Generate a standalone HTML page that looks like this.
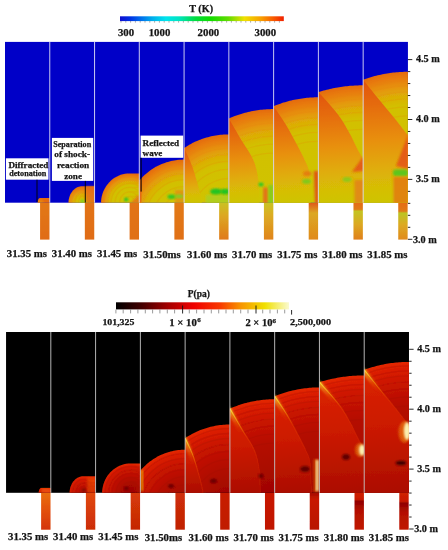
<!DOCTYPE html><html><head><meta charset="utf-8"><style>html,body{margin:0;padding:0;background:#fff;width:448px;height:550px;overflow:hidden}svg{display:block}text{font-family:"Liberation Serif","Times New Roman",serif;font-weight:bold;fill:#141414;stroke:#141414;stroke-width:0.25px}</style></head><body>
<svg width="448" height="550" viewBox="0 0 448 550">
<defs>
<filter id="bl" x="-20%" y="-20%" width="140%" height="140%"><feGaussianBlur stdDeviation="1.2"/></filter>
<filter id="bl05" x="-5%" y="-5%" width="110%" height="110%"><feGaussianBlur stdDeviation="0.6"/></filter>
<filter id="bl2" x="-20%" y="-20%" width="140%" height="140%"><feGaussianBlur stdDeviation="2.2"/></filter>
<linearGradient id="cbT" x1="0" x2="1" y1="0" y2="0"><stop offset="0" stop-color="#1010d0"/><stop offset="0.06" stop-color="#0030e4"/><stop offset="0.13" stop-color="#0070ec"/><stop offset="0.2" stop-color="#00b0ec"/><stop offset="0.28" stop-color="#00e4ec"/><stop offset="0.36" stop-color="#00e4c0"/><stop offset="0.46" stop-color="#00dc40"/><stop offset="0.55" stop-color="#10dc00"/><stop offset="0.66" stop-color="#60dc00"/><stop offset="0.76" stop-color="#f0e000"/><stop offset="0.86" stop-color="#f8a000"/><stop offset="0.93" stop-color="#f86000"/><stop offset="1" stop-color="#f02000"/></linearGradient>
<linearGradient id="cbP" x1="0" x2="1" y1="0" y2="0"><stop offset="0" stop-color="#000000"/><stop offset="0.15" stop-color="#440000"/><stop offset="0.3" stop-color="#a40000"/><stop offset="0.45" stop-color="#f00000"/><stop offset="0.6" stop-color="#f83800"/><stop offset="0.72" stop-color="#f89400"/><stop offset="0.86" stop-color="#f0e000"/><stop offset="1" stop-color="#fafad0"/></linearGradient>
<radialGradient id="gT0" gradientUnits="userSpaceOnUse" cx="39.97" cy="203.30" r="5.30"><stop offset="0" stop-color="#cec604"/><stop offset="0.000" stop-color="#d2c004"/><stop offset="0.000" stop-color="#dcae06"/><stop offset="0.009" stop-color="#e6940a"/><stop offset="0.604" stop-color="#e87a0c"/><stop offset="1" stop-color="#e46a10"/></radialGradient>
<radialGradient id="gP0" gradientUnits="userSpaceOnUse" cx="39.97" cy="203.30" r="5.30"><stop offset="0" stop-color="#980200"/><stop offset="0.000" stop-color="#b40c00"/><stop offset="0.000" stop-color="#c81400"/><stop offset="0.472" stop-color="#d81c00"/><stop offset="1" stop-color="#e42800"/></radialGradient>
<clipPath id="cp0"><rect x="5.00" y="41.9" width="44.77" height="160.80"/></clipPath>
<clipPath id="fc0"><path d="M37.57,203.30 L37.57,203.30 L37.58,202.88 L37.60,202.47 L37.64,202.06 L37.69,201.66 L37.75,201.27 L37.83,200.89 L37.92,200.53 L38.03,200.18 L38.15,199.86 L38.27,199.55 L38.41,199.27 L38.56,199.01 L38.72,198.78 L38.88,198.58 L39.05,198.40 L39.23,198.26 L39.41,198.15 L39.59,198.07 L39.78,198.02 L39.97,198.00 L50.77,198.00 L50.77,203.30 Z"/></clipPath>
<radialGradient id="gT1" gradientUnits="userSpaceOnUse" cx="82.04" cy="203.30" r="17.10"><stop offset="0" stop-color="#cec604"/><stop offset="0.304" stop-color="#d2c004"/><stop offset="0.509" stop-color="#dcae06"/><stop offset="0.693" stop-color="#e6940a"/><stop offset="0.877" stop-color="#e87a0c"/><stop offset="1" stop-color="#e46a10"/></radialGradient>
<radialGradient id="gP1" gradientUnits="userSpaceOnUse" cx="82.04" cy="203.30" r="17.10"><stop offset="0" stop-color="#980200"/><stop offset="0.079" stop-color="#b40c00"/><stop offset="0.550" stop-color="#c81400"/><stop offset="0.836" stop-color="#d81c00"/><stop offset="1" stop-color="#e42800"/></radialGradient>
<clipPath id="cp1"><rect x="49.77" y="41.9" width="44.77" height="160.80"/></clipPath>
<clipPath id="fc1"><path d="M68.44,203.30 L68.44,203.30 L68.48,201.96 L68.61,200.62 L68.82,199.31 L69.11,198.02 L69.48,196.76 L69.92,195.54 L70.44,194.37 L71.04,193.25 L71.70,192.19 L72.42,191.21 L73.21,190.30 L74.05,189.47 L74.93,188.72 L75.87,188.06 L76.84,187.50 L77.84,187.04 L78.87,186.67 L79.91,186.41 L80.97,186.25 L82.04,186.20 L95.54,186.20 L95.54,203.30 Z"/></clipPath>
<radialGradient id="gT2" gradientUnits="userSpaceOnUse" cx="129.41" cy="203.30" r="29.90"><stop offset="0" stop-color="#cec604"/><stop offset="0.602" stop-color="#d2c004"/><stop offset="0.719" stop-color="#dcae06"/><stop offset="0.824" stop-color="#e6940a"/><stop offset="0.930" stop-color="#e87a0c"/><stop offset="1" stop-color="#e46a10"/></radialGradient>
<radialGradient id="gP2" gradientUnits="userSpaceOnUse" cx="129.41" cy="203.30" r="29.90"><stop offset="0" stop-color="#980200"/><stop offset="0.473" stop-color="#b40c00"/><stop offset="0.742" stop-color="#c81400"/><stop offset="0.906" stop-color="#d81c00"/><stop offset="1" stop-color="#e42800"/></radialGradient>
<clipPath id="cp2"><rect x="94.54" y="41.9" width="44.77" height="160.80"/></clipPath>
<clipPath id="fc2"><path d="M101.01,203.30 L101.01,203.30 L101.10,200.95 L101.36,198.62 L101.79,196.32 L102.40,194.06 L103.17,191.86 L104.11,189.73 L105.20,187.68 L106.43,185.73 L107.81,183.88 L109.33,182.16 L110.97,180.56 L112.72,179.11 L114.57,177.81 L116.52,176.66 L118.54,175.68 L120.63,174.86 L122.78,174.23 L124.97,173.77 L127.18,173.49 L129.41,173.40 L140.31,173.40 L140.31,203.30 Z"/></clipPath>
<radialGradient id="gT3" gradientUnits="userSpaceOnUse" cx="184.08" cy="217.82" r="58.22"><stop offset="0" stop-color="#cec604"/><stop offset="0.622" stop-color="#d2c004"/><stop offset="0.733" stop-color="#dcae06"/><stop offset="0.833" stop-color="#e6940a"/><stop offset="0.933" stop-color="#e87a0c"/><stop offset="1" stop-color="#e46a10"/></radialGradient>
<radialGradient id="gP3" gradientUnits="userSpaceOnUse" cx="184.08" cy="217.82" r="58.22"><stop offset="0" stop-color="#980200"/><stop offset="0.500" stop-color="#b40c00"/><stop offset="0.756" stop-color="#c81400"/><stop offset="0.911" stop-color="#d81c00"/><stop offset="1" stop-color="#e42800"/></radialGradient>
<clipPath id="cp3"><rect x="139.31" y="41.9" width="44.77" height="160.80"/></clipPath>
<clipPath id="fc3"><path d="M138.31,203.30 L138.31,181.84 L139.87,179.94 L141.43,178.19 L142.99,176.58 L144.55,175.08 L146.11,173.69 L147.66,172.39 L149.22,171.19 L150.78,170.06 L152.34,169.01 L153.90,168.03 L155.46,167.12 L157.02,166.27 L158.58,165.48 L160.14,164.75 L161.69,164.08 L163.25,163.45 L164.81,162.88 L166.37,162.36 L167.93,161.88 L169.49,161.46 L171.05,161.08 L172.61,160.74 L174.17,160.45 L175.73,160.20 L177.29,160.00 L178.84,159.84 L180.40,159.72 L181.96,159.64 L183.52,159.60 L185.08,159.61 L185.08,203.30 Z"/></clipPath>
<linearGradient id="rT3" gradientUnits="userSpaceOnUse" x1="139.31" y1="180.60" x2="145.31" y2="202.70"><stop offset="0" stop-color="#e2520c"/><stop offset="0.28" stop-color="#e6740c"/><stop offset="0.5" stop-color="#e8900a"/><stop offset="0.72" stop-color="#e0ac08"/><stop offset="0.88" stop-color="#d6be06"/><stop offset="1" stop-color="#cec404"/></linearGradient>
<linearGradient id="rP3" gradientUnits="userSpaceOnUse" x1="139.31" y1="180.60" x2="145.31" y2="202.70"><stop offset="0" stop-color="#dc2400"/><stop offset="0.45" stop-color="#cc1a02"/><stop offset="1" stop-color="#ac0e00"/></linearGradient>
<radialGradient id="gT4" gradientUnits="userSpaceOnUse" cx="228.85" cy="214.89" r="80.49"><stop offset="0" stop-color="#cec604"/><stop offset="0.622" stop-color="#d2c004"/><stop offset="0.733" stop-color="#dcae06"/><stop offset="0.833" stop-color="#e6940a"/><stop offset="0.933" stop-color="#e87a0c"/><stop offset="1" stop-color="#e46a10"/></radialGradient>
<radialGradient id="gP4" gradientUnits="userSpaceOnUse" cx="228.85" cy="214.89" r="80.49"><stop offset="0" stop-color="#980200"/><stop offset="0.500" stop-color="#b40c00"/><stop offset="0.756" stop-color="#c81400"/><stop offset="0.911" stop-color="#d81c00"/><stop offset="1" stop-color="#e42800"/></radialGradient>
<clipPath id="cp4"><rect x="184.08" y="41.9" width="44.77" height="160.80"/></clipPath>
<clipPath id="fc4"><path d="M183.08,203.30 L183.08,148.68 L184.64,147.63 L186.20,146.63 L187.76,145.68 L189.32,144.78 L190.88,143.92 L192.43,143.11 L193.99,142.34 L195.55,141.61 L197.11,140.92 L198.67,140.27 L200.23,139.66 L201.79,139.09 L203.35,138.55 L204.91,138.04 L206.47,137.58 L208.02,137.14 L209.58,136.74 L211.14,136.37 L212.70,136.04 L214.26,135.73 L215.82,135.46 L217.38,135.22 L218.94,135.01 L220.50,134.83 L222.06,134.69 L223.61,134.57 L225.17,134.48 L226.73,134.43 L228.29,134.40 L229.85,134.41 L229.85,203.30 Z"/></clipPath>
<linearGradient id="rT4" gradientUnits="userSpaceOnUse" x1="184.08" y1="148.00" x2="190.08" y2="202.70"><stop offset="0" stop-color="#e2520c"/><stop offset="0.28" stop-color="#e6740c"/><stop offset="0.5" stop-color="#e8900a"/><stop offset="0.72" stop-color="#e0ac08"/><stop offset="0.88" stop-color="#d6be06"/><stop offset="1" stop-color="#cec404"/></linearGradient>
<linearGradient id="rP4" gradientUnits="userSpaceOnUse" x1="184.08" y1="148.00" x2="190.08" y2="202.70"><stop offset="0" stop-color="#dc2400"/><stop offset="0.45" stop-color="#cc1a02"/><stop offset="1" stop-color="#ac0e00"/></linearGradient>
<radialGradient id="gT5" gradientUnits="userSpaceOnUse" cx="273.62" cy="220.41" r="111.31"><stop offset="0" stop-color="#cec604"/><stop offset="0.695" stop-color="#d2c004"/><stop offset="0.784" stop-color="#dcae06"/><stop offset="0.865" stop-color="#e6940a"/><stop offset="0.946" stop-color="#e87a0c"/><stop offset="1" stop-color="#e46a10"/></radialGradient>
<radialGradient id="gP5" gradientUnits="userSpaceOnUse" cx="273.62" cy="220.41" r="111.31"><stop offset="0" stop-color="#980200"/><stop offset="0.596" stop-color="#b40c00"/><stop offset="0.802" stop-color="#c81400"/><stop offset="0.928" stop-color="#d81c00"/><stop offset="1" stop-color="#e42800"/></radialGradient>
<clipPath id="cp5"><rect x="228.85" y="41.9" width="44.77" height="160.80"/></clipPath>
<clipPath id="fc5"><path d="M227.85,203.30 L227.85,118.95 L229.41,118.26 L230.97,117.60 L232.53,116.96 L234.09,116.36 L235.65,115.78 L237.20,115.23 L238.76,114.70 L240.32,114.20 L241.88,113.72 L243.44,113.27 L245.00,112.84 L246.56,112.44 L248.12,112.06 L249.68,111.71 L251.24,111.37 L252.79,111.07 L254.35,110.78 L255.91,110.52 L257.47,110.28 L259.03,110.06 L260.59,109.87 L262.15,109.69 L263.71,109.54 L265.27,109.41 L266.82,109.31 L268.38,109.22 L269.94,109.16 L271.50,109.12 L273.06,109.10 L274.62,109.10 L274.62,203.30 Z"/></clipPath>
<linearGradient id="rT5" gradientUnits="userSpaceOnUse" x1="228.85" y1="118.50" x2="234.85" y2="202.70"><stop offset="0" stop-color="#e2520c"/><stop offset="0.28" stop-color="#e6740c"/><stop offset="0.5" stop-color="#e8900a"/><stop offset="0.72" stop-color="#e0ac08"/><stop offset="0.88" stop-color="#d6be06"/><stop offset="1" stop-color="#cec404"/></linearGradient>
<linearGradient id="rP5" gradientUnits="userSpaceOnUse" x1="228.85" y1="118.50" x2="234.85" y2="202.70"><stop offset="0" stop-color="#dc2400"/><stop offset="0.45" stop-color="#cc1a02"/><stop offset="1" stop-color="#ac0e00"/></linearGradient>
<radialGradient id="gT6" gradientUnits="userSpaceOnUse" cx="318.39" cy="214.35" r="117.05"><stop offset="0" stop-color="#cec604"/><stop offset="0.710" stop-color="#d2c004"/><stop offset="0.795" stop-color="#dcae06"/><stop offset="0.872" stop-color="#e6940a"/><stop offset="0.949" stop-color="#e87a0c"/><stop offset="1" stop-color="#e46a10"/></radialGradient>
<radialGradient id="gP6" gradientUnits="userSpaceOnUse" cx="318.39" cy="214.35" r="117.05"><stop offset="0" stop-color="#980200"/><stop offset="0.616" stop-color="#b40c00"/><stop offset="0.812" stop-color="#c81400"/><stop offset="0.932" stop-color="#d81c00"/><stop offset="1" stop-color="#e42800"/></radialGradient>
<clipPath id="cp6"><rect x="273.62" y="41.9" width="44.77" height="160.80"/></clipPath>
<clipPath id="fc6"><path d="M272.62,203.30 L272.62,106.62 L274.18,105.97 L275.74,105.35 L277.30,104.75 L278.86,104.18 L280.42,103.63 L281.97,103.11 L283.53,102.61 L285.09,102.14 L286.65,101.69 L288.21,101.26 L289.77,100.85 L291.33,100.47 L292.89,100.11 L294.45,99.78 L296.00,99.46 L297.56,99.17 L299.12,98.90 L300.68,98.65 L302.24,98.42 L303.80,98.21 L305.36,98.03 L306.92,97.86 L308.48,97.72 L310.04,97.60 L311.59,97.50 L313.15,97.42 L314.71,97.36 L316.27,97.32 L317.83,97.30 L319.39,97.30 L319.39,203.30 Z"/></clipPath>
<linearGradient id="rT6" gradientUnits="userSpaceOnUse" x1="273.62" y1="106.20" x2="279.62" y2="202.70"><stop offset="0" stop-color="#e2520c"/><stop offset="0.28" stop-color="#e6740c"/><stop offset="0.5" stop-color="#e8900a"/><stop offset="0.72" stop-color="#e0ac08"/><stop offset="0.88" stop-color="#d6be06"/><stop offset="1" stop-color="#cec404"/></linearGradient>
<linearGradient id="rP6" gradientUnits="userSpaceOnUse" x1="273.62" y1="106.20" x2="279.62" y2="202.70"><stop offset="0" stop-color="#dc2400"/><stop offset="0.45" stop-color="#cc1a02"/><stop offset="1" stop-color="#ac0e00"/></linearGradient>
<radialGradient id="gT7" gradientUnits="userSpaceOnUse" cx="363.16" cy="236.08" r="150.78"><stop offset="0" stop-color="#cec604"/><stop offset="0.775" stop-color="#d2c004"/><stop offset="0.841" stop-color="#dcae06"/><stop offset="0.901" stop-color="#e6940a"/><stop offset="0.960" stop-color="#e87a0c"/><stop offset="1" stop-color="#e46a10"/></radialGradient>
<radialGradient id="gP7" gradientUnits="userSpaceOnUse" cx="363.16" cy="236.08" r="150.78"><stop offset="0" stop-color="#980200"/><stop offset="0.702" stop-color="#b40c00"/><stop offset="0.854" stop-color="#c81400"/><stop offset="0.947" stop-color="#d81c00"/><stop offset="1" stop-color="#e42800"/></radialGradient>
<clipPath id="cp7"><rect x="318.39" y="41.9" width="44.77" height="160.80"/></clipPath>
<clipPath id="fc7"><path d="M317.39,203.30 L317.39,92.41 L318.95,91.93 L320.51,91.46 L322.07,91.01 L323.63,90.58 L325.19,90.16 L326.74,89.76 L328.30,89.38 L329.86,89.02 L331.42,88.68 L332.98,88.35 L334.54,88.04 L336.10,87.75 L337.66,87.47 L339.22,87.21 L340.78,86.97 L342.33,86.75 L343.89,86.54 L345.45,86.34 L347.01,86.17 L348.57,86.01 L350.13,85.86 L351.69,85.74 L353.25,85.63 L354.81,85.53 L356.37,85.45 L357.92,85.39 L359.48,85.34 L361.04,85.31 L362.60,85.30 L364.16,85.30 L364.16,203.30 Z"/></clipPath>
<linearGradient id="rT7" gradientUnits="userSpaceOnUse" x1="318.39" y1="92.10" x2="324.39" y2="202.70"><stop offset="0" stop-color="#e2520c"/><stop offset="0.28" stop-color="#e6740c"/><stop offset="0.5" stop-color="#e8900a"/><stop offset="0.72" stop-color="#e0ac08"/><stop offset="0.88" stop-color="#d6be06"/><stop offset="1" stop-color="#cec404"/></linearGradient>
<linearGradient id="rP7" gradientUnits="userSpaceOnUse" x1="318.39" y1="92.10" x2="324.39" y2="202.70"><stop offset="0" stop-color="#dc2400"/><stop offset="0.45" stop-color="#cc1a02"/><stop offset="1" stop-color="#ac0e00"/></linearGradient>
<radialGradient id="gT8" gradientUnits="userSpaceOnUse" cx="407.93" cy="202.61" r="130.81"><stop offset="0" stop-color="#cec604"/><stop offset="0.740" stop-color="#d2c004"/><stop offset="0.817" stop-color="#dcae06"/><stop offset="0.885" stop-color="#e6940a"/><stop offset="0.954" stop-color="#e87a0c"/><stop offset="1" stop-color="#e46a10"/></radialGradient>
<radialGradient id="gP8" gradientUnits="userSpaceOnUse" cx="407.93" cy="202.61" r="130.81"><stop offset="0" stop-color="#980200"/><stop offset="0.656" stop-color="#b40c00"/><stop offset="0.832" stop-color="#c81400"/><stop offset="0.939" stop-color="#d81c00"/><stop offset="1" stop-color="#e42800"/></radialGradient>
<clipPath id="cp8"><rect x="363.16" y="41.9" width="44.77" height="160.80"/></clipPath>
<clipPath id="fc8"><path d="M362.16,203.30 L362.16,80.07 L363.72,79.50 L365.28,78.95 L366.84,78.42 L368.40,77.92 L369.96,77.43 L371.51,76.97 L373.07,76.53 L374.63,76.11 L376.19,75.71 L377.75,75.33 L379.31,74.97 L380.87,74.63 L382.43,74.31 L383.99,74.01 L385.55,73.73 L387.10,73.47 L388.66,73.23 L390.22,73.00 L391.78,72.80 L393.34,72.62 L394.90,72.45 L396.46,72.30 L398.02,72.18 L399.58,72.07 L401.13,71.98 L402.69,71.90 L404.25,71.85 L405.81,71.82 L407.37,71.80 L408.93,71.80 L408.93,203.30 Z"/></clipPath>
<linearGradient id="rT8" gradientUnits="userSpaceOnUse" x1="363.16" y1="79.70" x2="369.16" y2="202.70"><stop offset="0" stop-color="#e2520c"/><stop offset="0.28" stop-color="#e6740c"/><stop offset="0.5" stop-color="#e8900a"/><stop offset="0.72" stop-color="#e0ac08"/><stop offset="0.88" stop-color="#d6be06"/><stop offset="1" stop-color="#cec404"/></linearGradient>
<linearGradient id="rP8" gradientUnits="userSpaceOnUse" x1="363.16" y1="79.70" x2="369.16" y2="202.70"><stop offset="0" stop-color="#dc2400"/><stop offset="0.45" stop-color="#cc1a02"/><stop offset="1" stop-color="#ac0e00"/></linearGradient>
<linearGradient id="rl4" gradientUnits="userSpaceOnUse" x1="184.08" y1="148.00" x2="214.08" y2="208.00"><stop offset="0" stop-color="#f8e040"/><stop offset="0.2" stop-color="#f0a010" stop-opacity="0.8"/><stop offset="0.5" stop-color="#e84000" stop-opacity="0.45"/><stop offset="1" stop-color="#e03000" stop-opacity="0.25"/></linearGradient>
<linearGradient id="rl5" gradientUnits="userSpaceOnUse" x1="228.85" y1="118.50" x2="258.85" y2="178.50"><stop offset="0" stop-color="#f8e040"/><stop offset="0.2" stop-color="#f0a010" stop-opacity="0.8"/><stop offset="0.5" stop-color="#e84000" stop-opacity="0.45"/><stop offset="1" stop-color="#e03000" stop-opacity="0.25"/></linearGradient>
<linearGradient id="rl6" gradientUnits="userSpaceOnUse" x1="273.62" y1="106.20" x2="303.62" y2="166.20"><stop offset="0" stop-color="#f8e040"/><stop offset="0.2" stop-color="#f0a010" stop-opacity="0.8"/><stop offset="0.5" stop-color="#e84000" stop-opacity="0.45"/><stop offset="1" stop-color="#e03000" stop-opacity="0.25"/></linearGradient>
<linearGradient id="rl7" gradientUnits="userSpaceOnUse" x1="318.39" y1="92.10" x2="348.39" y2="152.10"><stop offset="0" stop-color="#f8e040"/><stop offset="0.2" stop-color="#f0a010" stop-opacity="0.8"/><stop offset="0.5" stop-color="#e84000" stop-opacity="0.45"/><stop offset="1" stop-color="#e03000" stop-opacity="0.25"/></linearGradient>
<linearGradient id="rl8" gradientUnits="userSpaceOnUse" x1="363.16" y1="79.70" x2="393.16" y2="139.70"><stop offset="0" stop-color="#f8e040"/><stop offset="0.2" stop-color="#f0a010" stop-opacity="0.8"/><stop offset="0.5" stop-color="#e84000" stop-opacity="0.45"/><stop offset="1" stop-color="#e03000" stop-opacity="0.25"/></linearGradient>
<linearGradient id="rw4" gradientUnits="userSpaceOnUse" x1="184.08" y1="148.00" x2="198.08" y2="172.00"><stop offset="0" stop-color="#f0c020" stop-opacity="0.9"/><stop offset="0.5" stop-color="#f08010" stop-opacity="0.5"/><stop offset="1" stop-color="#e04000" stop-opacity="0"/></linearGradient>
<linearGradient id="rw5" gradientUnits="userSpaceOnUse" x1="228.85" y1="118.50" x2="242.85" y2="142.50"><stop offset="0" stop-color="#f0c020" stop-opacity="0.9"/><stop offset="0.5" stop-color="#f08010" stop-opacity="0.5"/><stop offset="1" stop-color="#e04000" stop-opacity="0"/></linearGradient>
<linearGradient id="rw6" gradientUnits="userSpaceOnUse" x1="273.62" y1="106.20" x2="287.62" y2="130.20"><stop offset="0" stop-color="#f0c020" stop-opacity="0.9"/><stop offset="0.5" stop-color="#f08010" stop-opacity="0.5"/><stop offset="1" stop-color="#e04000" stop-opacity="0"/></linearGradient>
<linearGradient id="rw7" gradientUnits="userSpaceOnUse" x1="318.39" y1="92.10" x2="332.39" y2="116.10"><stop offset="0" stop-color="#f0c020" stop-opacity="0.9"/><stop offset="0.5" stop-color="#f08010" stop-opacity="0.5"/><stop offset="1" stop-color="#e04000" stop-opacity="0"/></linearGradient>
<linearGradient id="rw8" gradientUnits="userSpaceOnUse" x1="363.16" y1="79.70" x2="377.16" y2="103.70"><stop offset="0" stop-color="#f0c020" stop-opacity="0.9"/><stop offset="0.5" stop-color="#f08010" stop-opacity="0.5"/><stop offset="1" stop-color="#e04000" stop-opacity="0"/></linearGradient>
<linearGradient id="chT" x1="0" x2="1" y1="0" y2="0"><stop offset="0" stop-color="#e48818"/><stop offset="0.5" stop-color="#ea7814"/><stop offset="1" stop-color="#e06c10"/></linearGradient>
<linearGradient id="chP" x1="0" x2="1" y1="0" y2="0"><stop offset="0" stop-color="#e04a08"/><stop offset="0.5" stop-color="#e03c04"/><stop offset="1" stop-color="#c82000"/></linearGradient>
</defs>
<text x="201.1" y="12.2" font-size="10.2" text-anchor="middle">T (K)</text>
<rect x="120" y="16.3" width="163.8" height="4.8" fill="url(#cbT)"/>
<path d="M121.0,21.1v1.5 M125.8,21.1v1.5 M130.6,21.1v1.5 M135.4,21.1v1.5 M140.2,21.1v1.5 M145.0,21.1v1.5 M149.8,21.1v1.5 M154.6,21.1v1.5 M159.4,21.1v1.5 M164.2,21.1v1.5 M169.0,21.1v1.5 M173.8,21.1v1.5 M178.6,21.1v1.5 M183.4,21.1v1.5 M188.2,21.1v1.5 M193.0,21.1v1.5 M197.8,21.1v1.5 M202.6,21.1v1.5 M207.4,21.1v1.5 M212.2,21.1v1.5 M217.0,21.1v1.5 M221.8,21.1v1.5 M226.6,21.1v1.5 M231.4,21.1v1.5 M236.2,21.1v1.5 M241.0,21.1v1.5 M245.8,21.1v1.5 M250.6,21.1v1.5 M255.4,21.1v1.5 M260.2,21.1v1.5 M265.0,21.1v1.5 M269.8,21.1v1.5 M274.6,21.1v1.5 M279.4,21.1v1.5" stroke="#666" stroke-width="0.6" fill="none"/>
<text x="126.0" y="35.7" font-size="10.8" text-anchor="middle">300</text>
<text x="159.5" y="35.7" font-size="10.8" text-anchor="middle">1000</text>
<text x="208.4" y="35.7" font-size="10.8" text-anchor="middle">2000</text>
<text x="265.3" y="35.7" font-size="10.8" text-anchor="middle">3000</text>
<text x="198.8" y="297.2" font-size="9.4" text-anchor="middle" textLength="22" lengthAdjust="spacingAndGlyphs">P(pa)</text>
<rect x="116" y="302.3" width="173" height="7.1" fill="url(#cbP)"/>
<path d="M115.9,309.6v3.8 M123.2,309.6v3.8 M130.6,309.6v3.8 M137.9,309.6v3.8 M145.3,309.6v3.8 M152.6,309.6v3.8 M159.9,309.6v3.8 M167.3,309.6v3.8 M174.6,309.6v3.8 M189.3,309.6v3.8 M196.6,309.6v3.8 M204.0,309.6v3.8 M211.3,309.6v3.8 M218.7,309.6v3.8 M226.0,309.6v3.8 M233.3,309.6v3.8 M240.7,309.6v3.8 M248.0,309.6v3.8 M262.7,309.6v3.8 M270.0,309.6v3.8 M277.4,309.6v3.8 M284.7,309.6v3.8" stroke="#555" stroke-width="0.6" fill="none"/>
<path d="M182.6,305.5v8 M256,305.5v8 M291.6,310v4.6" stroke="#111" stroke-width="0.9" fill="none"/>
<text x="118.4" y="324.6" font-size="8.8" text-anchor="middle" textLength="32" lengthAdjust="spacingAndGlyphs">101,325</text>
<text x="169.3" y="325.5" font-size="9.4" textLength="27.5" lengthAdjust="spacingAndGlyphs">1 × 10</text>
<text x="197.2" y="322.2" font-size="7">6</text>
<text x="245.4" y="325.9" font-size="9.4" textLength="27.0" lengthAdjust="spacingAndGlyphs">2 × 10</text>
<text x="272.6" y="322.6" font-size="7">6</text>
<text x="310.5" y="324.6" font-size="8.8" text-anchor="middle" textLength="41" lengthAdjust="spacingAndGlyphs">2,500,000</text>
<linearGradient id="chT0" x1="0" x2="0" y1="0" y2="1"><stop offset="0" stop-color="#e27818"/><stop offset="1" stop-color="#e06c16"/></linearGradient>
<linearGradient id="chT1" x1="0" x2="0" y1="0" y2="1"><stop offset="0" stop-color="#e27418"/><stop offset="1" stop-color="#e06c16"/></linearGradient>
<linearGradient id="chT2" x1="0" x2="0" y1="0" y2="1"><stop offset="0" stop-color="#e27418"/><stop offset="1" stop-color="#e07016"/></linearGradient>
<linearGradient id="chT3" x1="0" x2="0" y1="0" y2="1"><stop offset="0" stop-color="#e27a18"/><stop offset="1" stop-color="#e07016"/></linearGradient>
<linearGradient id="chT4" x1="0" x2="0" y1="0" y2="1"><stop offset="0" stop-color="#c8c420"/><stop offset="0.35" stop-color="#dca822"/><stop offset="1" stop-color="#e07a1a"/></linearGradient>
<linearGradient id="chT5" x1="0" x2="0" y1="0" y2="1"><stop offset="0" stop-color="#c8c620"/><stop offset="0.35" stop-color="#dcac22"/><stop offset="1" stop-color="#e0841c"/></linearGradient>
<linearGradient id="chT6" x1="0" x2="0" y1="0" y2="1"><stop offset="0" stop-color="#e05018"/><stop offset="0.3" stop-color="#dca822"/><stop offset="1" stop-color="#e08a1c"/></linearGradient>
<linearGradient id="chT7" x1="0" x2="0" y1="0" y2="1"><stop offset="0" stop-color="#e46a18"/><stop offset="0.2" stop-color="#e07a18"/><stop offset="0.25" stop-color="#c4c420"/><stop offset="0.6" stop-color="#dca822"/><stop offset="1" stop-color="#e0801a"/></linearGradient>
<linearGradient id="chT8" x1="0" x2="0" y1="0" y2="1"><stop offset="0" stop-color="#e66a18"/><stop offset="0.25" stop-color="#e07a18"/><stop offset="0.3" stop-color="#bcc420"/><stop offset="0.6" stop-color="#dcaa22"/><stop offset="1" stop-color="#e08a1c"/></linearGradient>
<linearGradient id="chP0" x1="0" x2="0" y1="0" y2="1"><stop offset="0" stop-color="#ea7010"/><stop offset="0.5" stop-color="#e25010"/><stop offset="1" stop-color="#d43408"/></linearGradient>
<linearGradient id="chP1" x1="0" x2="0" y1="0" y2="1"><stop offset="0" stop-color="#e24a0c"/><stop offset="1" stop-color="#cc2c06"/></linearGradient>
<linearGradient id="chP2" x1="0" x2="0" y1="0" y2="1"><stop offset="0" stop-color="#d83c08"/><stop offset="1" stop-color="#c42604"/></linearGradient>
<linearGradient id="chP3" x1="0" x2="0" y1="0" y2="1"><stop offset="0" stop-color="#d03008"/><stop offset="1" stop-color="#c02004"/></linearGradient>
<linearGradient id="chP4" x1="0" x2="0" y1="0" y2="1"><stop offset="0" stop-color="#c81c00"/><stop offset="1" stop-color="#c01c00"/></linearGradient>
<linearGradient id="chP5" x1="0" x2="0" y1="0" y2="1"><stop offset="0" stop-color="#c81800"/><stop offset="1" stop-color="#c01800"/></linearGradient>
<linearGradient id="chP6" x1="0" x2="0" y1="0" y2="1"><stop offset="0" stop-color="#a00800"/><stop offset="0.2" stop-color="#c81800"/><stop offset="1" stop-color="#b81400"/></linearGradient>
<linearGradient id="chP7" x1="0" x2="0" y1="0" y2="1"><stop offset="0" stop-color="#d02000"/><stop offset="0.2" stop-color="#c81800"/><stop offset="0.25" stop-color="#900000"/><stop offset="0.5" stop-color="#b41000"/><stop offset="1" stop-color="#c01800"/></linearGradient>
<linearGradient id="chP8" x1="0" x2="0" y1="0" y2="1"><stop offset="0" stop-color="#d02400"/><stop offset="0.25" stop-color="#c81800"/><stop offset="0.3" stop-color="#900000"/><stop offset="0.55" stop-color="#b41000"/><stop offset="1" stop-color="#c01800"/></linearGradient>
<filter id="soft" x="-2%" y="-2%" width="104%" height="104%"><feGaussianBlur stdDeviation="0.45"/></filter>
<g id="top" filter="url(#soft)">
<rect x="40.07" y="201.70" width="9.40" height="37.90" fill="url(#chT0)"/>
<rect x="84.84" y="201.70" width="9.40" height="37.90" fill="url(#chT1)"/>
<rect x="129.61" y="201.70" width="9.40" height="37.90" fill="url(#chT2)"/>
<rect x="174.38" y="201.70" width="9.40" height="37.90" fill="url(#chT3)"/>
<rect x="219.15" y="201.70" width="9.40" height="37.90" fill="url(#chT4)"/>
<rect x="263.92" y="201.70" width="9.40" height="37.90" fill="url(#chT5)"/>
<rect x="308.69" y="201.70" width="9.40" height="37.90" fill="url(#chT6)"/>
<rect x="353.46" y="201.70" width="9.40" height="37.90" fill="url(#chT7)"/>
<rect x="398.23" y="201.70" width="9.40" height="37.90" fill="url(#chT8)"/>
<rect x="5.0" y="41.9" width="402.93" height="160.80" fill="#0202c8"/>
<g clip-path="url(#cp0)">
<path d="M37.57,203.30 L37.57,203.30 L37.58,202.88 L37.60,202.47 L37.64,202.06 L37.69,201.66 L37.75,201.27 L37.83,200.89 L37.92,200.53 L38.03,200.18 L38.15,199.86 L38.27,199.55 L38.41,199.27 L38.56,199.01 L38.72,198.78 L38.88,198.58 L39.05,198.40 L39.23,198.26 L39.41,198.15 L39.59,198.07 L39.78,198.02 L39.97,198.00 L50.77,198.00 L50.77,203.30 Z" fill="url(#gT0)"/>
</g>
<g clip-path="url(#cp1)">
<path d="M68.44,203.30 L68.44,203.30 L68.48,201.96 L68.61,200.62 L68.82,199.31 L69.11,198.02 L69.48,196.76 L69.92,195.54 L70.44,194.37 L71.04,193.25 L71.70,192.19 L72.42,191.21 L73.21,190.30 L74.05,189.47 L74.93,188.72 L75.87,188.06 L76.84,187.50 L77.84,187.04 L78.87,186.67 L79.91,186.41 L80.97,186.25 L82.04,186.20 L95.54,186.20 L95.54,203.30 Z" fill="url(#gT1)"/>
<g clip-path="url(#fc1)"><g fill="none" stroke="#e8800c" stroke-width="1.3" opacity="0.2" filter="url(#bl05)"><ellipse cx="82.04" cy="203.30" rx="10.60" ry="14.10"/><path d="M82.04,189.20 H95.54"/><ellipse cx="82.04" cy="203.30" rx="7.10" ry="10.60"/><path d="M82.04,192.70 H95.54"/><ellipse cx="82.04" cy="203.30" rx="3.60" ry="7.10"/><path d="M82.04,196.20 H95.54"/></g></g>
<rect x="85.6" y="186.5" width="9.5" height="17" fill="#e47018" opacity="0.8" filter="url(#bl)"/>
<ellipse cx="82.5" cy="201.2" rx="2" ry="1.6" fill="#70d020" filter="url(#bl)"/>
</g>
<g clip-path="url(#cp2)">
<path d="M101.01,203.30 L101.01,203.30 L101.10,200.95 L101.36,198.62 L101.79,196.32 L102.40,194.06 L103.17,191.86 L104.11,189.73 L105.20,187.68 L106.43,185.73 L107.81,183.88 L109.33,182.16 L110.97,180.56 L112.72,179.11 L114.57,177.81 L116.52,176.66 L118.54,175.68 L120.63,174.86 L122.78,174.23 L124.97,173.77 L127.18,173.49 L129.41,173.40 L140.31,173.40 L140.31,203.30 Z" fill="url(#gT2)"/>
<g clip-path="url(#fc2)"><g fill="none" stroke="#e8800c" stroke-width="1.3" opacity="0.2" filter="url(#bl05)"><ellipse cx="129.41" cy="203.30" rx="25.40" ry="26.90"/><path d="M129.41,176.40 H140.31"/><ellipse cx="129.41" cy="203.30" rx="21.90" ry="23.40"/><path d="M129.41,179.90 H140.31"/><ellipse cx="129.41" cy="203.30" rx="18.40" ry="19.90"/><path d="M129.41,183.40 H140.31"/><ellipse cx="129.41" cy="203.30" rx="14.40" ry="15.90"/><path d="M129.41,187.40 H140.31"/><ellipse cx="129.41" cy="203.30" rx="9.90" ry="11.40"/><path d="M129.41,191.90 H140.31"/><ellipse cx="129.41" cy="203.30" rx="5.40" ry="6.90"/><path d="M129.41,196.40 H140.31"/></g></g>
<path d="M129.5,204 L139.5,194 L139.5,204 Z" fill="#e47018" opacity="0.85" filter="url(#bl)"/>
<ellipse cx="126.2" cy="199.6" rx="2.2" ry="2" fill="#30c820" filter="url(#bl)"/>
</g>
<g clip-path="url(#cp3)">
<path d="M138.31,203.30 L138.31,181.84 L139.87,179.94 L141.43,178.19 L142.99,176.58 L144.55,175.08 L146.11,173.69 L147.66,172.39 L149.22,171.19 L150.78,170.06 L152.34,169.01 L153.90,168.03 L155.46,167.12 L157.02,166.27 L158.58,165.48 L160.14,164.75 L161.69,164.08 L163.25,163.45 L164.81,162.88 L166.37,162.36 L167.93,161.88 L169.49,161.46 L171.05,161.08 L172.61,160.74 L174.17,160.45 L175.73,160.20 L177.29,160.00 L178.84,159.84 L180.40,159.72 L181.96,159.64 L183.52,159.60 L185.08,159.61 L185.08,203.30 Z" fill="url(#gT3)"/>
<g clip-path="url(#fc3)"><g fill="none" stroke="#e8800c" stroke-width="1.3" opacity="0.2" filter="url(#bl05)"><circle cx="184.08" cy="217.82" r="54.22"/><circle cx="184.08" cy="217.82" r="49.22"/><circle cx="184.08" cy="217.82" r="44.22"/><circle cx="184.08" cy="217.82" r="38.22"/><circle cx="184.08" cy="217.82" r="31.22"/><circle cx="184.08" cy="217.82" r="23.22"/><circle cx="184.08" cy="217.82" r="14.22"/></g></g>
<path d="M139.31,180.60 C139.58,182.17 140.48,186.18 140.91,190.00 C141.34,193.82 141.74,201.25 141.91,203.50 L141.91,203.30 L138.31,203.30 L138.31,177.60 Z" fill="url(#rT3)"/>
<rect x="175" y="190" width="9.5" height="14" fill="#e47a18" opacity="0.55" filter="url(#bl)"/>
<ellipse cx="171.5" cy="196.8" rx="4" ry="2.2" fill="#30c820" filter="url(#bl)"/>
<ellipse cx="179" cy="196.2" rx="4.5" ry="1.8" fill="#80d020" filter="url(#bl)"/>
<rect x="139" y="180" width="2.6" height="24" fill="#e46a18"/>
</g>
<g clip-path="url(#cp4)">
<path d="M183.08,203.30 L183.08,148.68 L184.64,147.63 L186.20,146.63 L187.76,145.68 L189.32,144.78 L190.88,143.92 L192.43,143.11 L193.99,142.34 L195.55,141.61 L197.11,140.92 L198.67,140.27 L200.23,139.66 L201.79,139.09 L203.35,138.55 L204.91,138.04 L206.47,137.58 L208.02,137.14 L209.58,136.74 L211.14,136.37 L212.70,136.04 L214.26,135.73 L215.82,135.46 L217.38,135.22 L218.94,135.01 L220.50,134.83 L222.06,134.69 L223.61,134.57 L225.17,134.48 L226.73,134.43 L228.29,134.40 L229.85,134.41 L229.85,203.30 Z" fill="url(#gT4)"/>
<g clip-path="url(#fc4)"><g fill="none" stroke="#e8800c" stroke-width="1.3" opacity="0.2" filter="url(#bl05)"><circle cx="228.85" cy="214.89" r="76.49"/><circle cx="228.85" cy="214.89" r="71.49"/><circle cx="228.85" cy="214.89" r="66.49"/><circle cx="228.85" cy="214.89" r="60.49"/><circle cx="228.85" cy="214.89" r="53.49"/><circle cx="228.85" cy="214.89" r="45.49"/><circle cx="228.85" cy="214.89" r="36.49"/></g></g>
<path d="M184.08,148.00 C185.48,151.17 189.78,159.38 192.48,167.00 C195.18,174.62 198.68,187.62 200.28,193.70 C201.88,199.78 201.78,201.87 202.08,203.50 L202.08,203.30 L183.08,203.30 L183.08,145.00 Z" fill="url(#rT4)"/>
<rect x="206" y="195" width="23" height="9" fill="#a8d020" opacity="0.8" filter="url(#bl)"/>
<ellipse cx="216" cy="191.6" rx="6" ry="3" fill="#20c420" filter="url(#bl)"/>
<ellipse cx="225" cy="191.6" rx="4.5" ry="2.8" fill="#20c420" filter="url(#bl)"/>
</g>
<g clip-path="url(#cp5)">
<path d="M227.85,203.30 L227.85,118.95 L229.41,118.26 L230.97,117.60 L232.53,116.96 L234.09,116.36 L235.65,115.78 L237.20,115.23 L238.76,114.70 L240.32,114.20 L241.88,113.72 L243.44,113.27 L245.00,112.84 L246.56,112.44 L248.12,112.06 L249.68,111.71 L251.24,111.37 L252.79,111.07 L254.35,110.78 L255.91,110.52 L257.47,110.28 L259.03,110.06 L260.59,109.87 L262.15,109.69 L263.71,109.54 L265.27,109.41 L266.82,109.31 L268.38,109.22 L269.94,109.16 L271.50,109.12 L273.06,109.10 L274.62,109.10 L274.62,203.30 Z" fill="url(#gT5)"/>
<g clip-path="url(#fc5)"><g fill="none" stroke="#e8800c" stroke-width="1.3" opacity="0.2" filter="url(#bl05)"><circle cx="273.62" cy="220.41" r="107.31"/><circle cx="273.62" cy="220.41" r="102.31"/><circle cx="273.62" cy="220.41" r="97.31"/><circle cx="273.62" cy="220.41" r="91.31"/><circle cx="273.62" cy="220.41" r="84.31"/><circle cx="273.62" cy="220.41" r="76.31"/><circle cx="273.62" cy="220.41" r="67.31"/></g></g>
<path d="M228.85,118.50 C230.93,122.08 237.27,133.08 241.35,140.00 C245.43,146.92 250.52,153.33 253.35,160.00 C256.18,166.67 257.35,172.75 258.35,180.00 C259.35,187.25 259.18,199.58 259.35,203.50 L259.35,203.30 L227.85,203.30 L227.85,115.50 Z" fill="url(#rT5)"/>
<ellipse cx="261" cy="184.5" rx="2.6" ry="2" fill="#30c820" filter="url(#bl)"/>
<rect x="263.2" y="187.5" width="4.6" height="16" fill="#e46a18" opacity="0.9" filter="url(#bl)"/>
<rect x="268.4" y="185" width="5" height="19" fill="#80cc20" opacity="0.9" filter="url(#bl)"/>
</g>
<g clip-path="url(#cp6)">
<path d="M272.62,203.30 L272.62,106.62 L274.18,105.97 L275.74,105.35 L277.30,104.75 L278.86,104.18 L280.42,103.63 L281.97,103.11 L283.53,102.61 L285.09,102.14 L286.65,101.69 L288.21,101.26 L289.77,100.85 L291.33,100.47 L292.89,100.11 L294.45,99.78 L296.00,99.46 L297.56,99.17 L299.12,98.90 L300.68,98.65 L302.24,98.42 L303.80,98.21 L305.36,98.03 L306.92,97.86 L308.48,97.72 L310.04,97.60 L311.59,97.50 L313.15,97.42 L314.71,97.36 L316.27,97.32 L317.83,97.30 L319.39,97.30 L319.39,203.30 Z" fill="url(#gT6)"/>
<g clip-path="url(#fc6)"><g fill="none" stroke="#e8800c" stroke-width="1.3" opacity="0.2" filter="url(#bl05)"><circle cx="318.39" cy="214.35" r="113.05"/><circle cx="318.39" cy="214.35" r="108.05"/><circle cx="318.39" cy="214.35" r="103.05"/><circle cx="318.39" cy="214.35" r="97.05"/><circle cx="318.39" cy="214.35" r="90.05"/><circle cx="318.39" cy="214.35" r="82.05"/><circle cx="318.39" cy="214.35" r="73.05"/></g></g>
<path d="M273.62,106.20 C275.70,109.33 282.20,118.53 286.12,125.00 C290.04,131.47 293.95,139.00 297.12,145.00 C300.29,151.00 303.12,156.33 305.12,161.00 C307.12,165.67 308.20,165.92 309.12,173.00 C310.04,180.08 310.37,198.42 310.62,203.50 L310.62,203.30 L272.62,203.30 L272.62,103.20 Z" fill="url(#rT6)"/>
<path d="M313.8,171 L318.6,171 L318.6,204 L315,204 Z" fill="#e04818" opacity="0.85" filter="url(#bl)"/>
<ellipse cx="307.5" cy="173.5" rx="4.5" ry="2.6" fill="#e66a18" opacity="0.7" filter="url(#bl)"/>
<ellipse cx="306.5" cy="181.5" rx="4.5" ry="2.4" fill="#70cc20" opacity="0.85" filter="url(#bl)"/>
</g>
<g clip-path="url(#cp7)">
<path d="M317.39,203.30 L317.39,92.41 L318.95,91.93 L320.51,91.46 L322.07,91.01 L323.63,90.58 L325.19,90.16 L326.74,89.76 L328.30,89.38 L329.86,89.02 L331.42,88.68 L332.98,88.35 L334.54,88.04 L336.10,87.75 L337.66,87.47 L339.22,87.21 L340.78,86.97 L342.33,86.75 L343.89,86.54 L345.45,86.34 L347.01,86.17 L348.57,86.01 L350.13,85.86 L351.69,85.74 L353.25,85.63 L354.81,85.53 L356.37,85.45 L357.92,85.39 L359.48,85.34 L361.04,85.31 L362.60,85.30 L364.16,85.30 L364.16,203.30 Z" fill="url(#gT7)"/>
<g clip-path="url(#fc7)"><g fill="none" stroke="#e8800c" stroke-width="1.3" opacity="0.2" filter="url(#bl05)"><circle cx="363.16" cy="236.08" r="146.78"/><circle cx="363.16" cy="236.08" r="141.78"/><circle cx="363.16" cy="236.08" r="136.78"/><circle cx="363.16" cy="236.08" r="130.78"/><circle cx="363.16" cy="236.08" r="123.78"/><circle cx="363.16" cy="236.08" r="115.78"/><circle cx="363.16" cy="236.08" r="106.78"/></g></g>
<path d="M318.39,92.10 C321.59,95.75 332.51,107.35 337.59,114.00 C342.67,120.65 345.67,126.33 348.89,132.00 C352.11,137.67 354.72,143.83 356.89,148.00 C359.06,152.17 360.72,155.00 361.89,157.00 C363.06,159.00 363.56,159.50 363.89,160.00 L363.89,203.30 L317.39,203.30 L317.39,89.10 Z" fill="url(#rT7)"/>
<path d="M363.6,156 L352,172 L363.6,171 Z" fill="#e44c18" opacity="0.8" filter="url(#bl)"/>
<ellipse cx="347" cy="179.5" rx="4.5" ry="2.4" fill="#80cc20" opacity="0.85" filter="url(#bl)"/>
<rect x="354.5" y="180" width="9.5" height="24" fill="#e47a1a" opacity="0.75" filter="url(#bl)"/>
</g>
<g clip-path="url(#cp8)">
<path d="M362.16,203.30 L362.16,80.07 L363.72,79.50 L365.28,78.95 L366.84,78.42 L368.40,77.92 L369.96,77.43 L371.51,76.97 L373.07,76.53 L374.63,76.11 L376.19,75.71 L377.75,75.33 L379.31,74.97 L380.87,74.63 L382.43,74.31 L383.99,74.01 L385.55,73.73 L387.10,73.47 L388.66,73.23 L390.22,73.00 L391.78,72.80 L393.34,72.62 L394.90,72.45 L396.46,72.30 L398.02,72.18 L399.58,72.07 L401.13,71.98 L402.69,71.90 L404.25,71.85 L405.81,71.82 L407.37,71.80 L408.93,71.80 L408.93,203.30 Z" fill="url(#gT8)"/>
<g clip-path="url(#fc8)"><g fill="none" stroke="#e8800c" stroke-width="1.3" opacity="0.2" filter="url(#bl05)"><circle cx="407.93" cy="202.61" r="126.81"/><circle cx="407.93" cy="202.61" r="121.81"/><circle cx="407.93" cy="202.61" r="116.81"/><circle cx="407.93" cy="202.61" r="110.81"/><circle cx="407.93" cy="202.61" r="103.81"/><circle cx="407.93" cy="202.61" r="95.81"/><circle cx="407.93" cy="202.61" r="86.81"/></g></g>
<path d="M363.16,79.70 C365.59,82.75 373.21,92.40 377.76,98.00 C382.31,103.60 386.64,108.63 390.46,113.30 C394.28,117.97 397.98,122.60 400.66,126.00 C403.34,129.40 405.23,132.20 406.56,133.70 C407.89,135.20 408.31,134.78 408.66,135.00 L408.66,203.30 L362.16,203.30 L362.16,76.70 Z" fill="url(#rT8)"/>
<path d="M408.4,134 L396,166 L408.4,169 Z" fill="#e44c18" opacity="0.8" filter="url(#bl)"/>
<rect x="393" y="169.5" width="15" height="6.5" rx="2.5" fill="#50c820" opacity="0.9" filter="url(#bl)"/>
<rect x="393.5" y="177" width="15" height="27" fill="#e47018" opacity="0.75" filter="url(#bl)"/>
</g>
<path d="M49.77,41.9V202.7 M94.54,41.9V202.7 M139.31,41.9V202.7 M184.08,41.9V202.7 M228.85,41.9V202.7 M273.62,41.9V202.7 M318.39,41.9V202.7 M363.16,41.9V202.7" stroke="#dcdcf4" stroke-width="0.9" fill="none"/>
</g>
<g id="bot" transform="translate(1.05,290.1)" filter="url(#soft)">
<rect x="40.07" y="201.70" width="9.40" height="37.90" fill="url(#chP0)"/>
<rect x="84.84" y="201.70" width="9.40" height="37.90" fill="url(#chP1)"/>
<rect x="129.61" y="201.70" width="9.40" height="37.90" fill="url(#chP2)"/>
<rect x="174.38" y="201.70" width="9.40" height="37.90" fill="url(#chP3)"/>
<rect x="219.15" y="201.70" width="9.40" height="37.90" fill="url(#chP4)"/>
<rect x="263.92" y="201.70" width="9.40" height="37.90" fill="url(#chP5)"/>
<rect x="308.69" y="201.70" width="9.40" height="37.90" fill="url(#chP6)"/>
<rect x="353.46" y="201.70" width="9.40" height="37.90" fill="url(#chP7)"/>
<rect x="398.23" y="201.70" width="9.40" height="37.90" fill="url(#chP8)"/>
<rect x="5.0" y="41.9" width="402.93" height="160.80" fill="#000000"/>
<g clip-path="url(#cp0)">
<path d="M37.57,203.30 L37.57,203.30 L37.58,202.88 L37.60,202.47 L37.64,202.06 L37.69,201.66 L37.75,201.27 L37.83,200.89 L37.92,200.53 L38.03,200.18 L38.15,199.86 L38.27,199.55 L38.41,199.27 L38.56,199.01 L38.72,198.78 L38.88,198.58 L39.05,198.40 L39.23,198.26 L39.41,198.15 L39.59,198.07 L39.78,198.02 L39.97,198.00 L50.77,198.00 L50.77,203.30 Z" fill="url(#gP0)"/>
<g transform="translate(-1.05,-290.1)"><rect x="41" y="488.5" width="9.5" height="5" fill="#f07018" opacity="0.5" filter="url(#bl)"/></g>
</g>
<g clip-path="url(#cp1)">
<path d="M68.44,203.30 L68.44,203.30 L68.48,201.96 L68.61,200.62 L68.82,199.31 L69.11,198.02 L69.48,196.76 L69.92,195.54 L70.44,194.37 L71.04,193.25 L71.70,192.19 L72.42,191.21 L73.21,190.30 L74.05,189.47 L74.93,188.72 L75.87,188.06 L76.84,187.50 L77.84,187.04 L78.87,186.67 L79.91,186.41 L80.97,186.25 L82.04,186.20 L95.54,186.20 L95.54,203.30 Z" fill="url(#gP1)"/>
<g clip-path="url(#fc1)"><g fill="none" stroke="#a00800" stroke-width="1.3" opacity="0.25" filter="url(#bl05)"><ellipse cx="82.04" cy="203.30" rx="10.60" ry="14.10"/><path d="M82.04,189.20 H95.54"/><ellipse cx="82.04" cy="203.30" rx="7.10" ry="10.60"/><path d="M82.04,192.70 H95.54"/><ellipse cx="82.04" cy="203.30" rx="3.60" ry="7.10"/><path d="M82.04,196.20 H95.54"/></g></g>
<g transform="translate(-1.05,-290.1)"><rect x="87" y="478" width="8.5" height="15" fill="#f06010" opacity="0.45" filter="url(#bl)"/></g>
<g transform="translate(-1.05,-290.1)"><ellipse cx="83.8" cy="490" rx="1.8" ry="1.5" fill="#600000" opacity="0.85" filter="url(#bl)"/></g>
</g>
<g clip-path="url(#cp2)">
<path d="M101.01,203.30 L101.01,203.30 L101.10,200.95 L101.36,198.62 L101.79,196.32 L102.40,194.06 L103.17,191.86 L104.11,189.73 L105.20,187.68 L106.43,185.73 L107.81,183.88 L109.33,182.16 L110.97,180.56 L112.72,179.11 L114.57,177.81 L116.52,176.66 L118.54,175.68 L120.63,174.86 L122.78,174.23 L124.97,173.77 L127.18,173.49 L129.41,173.40 L140.31,173.40 L140.31,203.30 Z" fill="url(#gP2)"/>
<g clip-path="url(#fc2)"><g fill="none" stroke="#a00800" stroke-width="1.3" opacity="0.25" filter="url(#bl05)"><ellipse cx="129.41" cy="203.30" rx="25.40" ry="26.90"/><path d="M129.41,176.40 H140.31"/><ellipse cx="129.41" cy="203.30" rx="21.90" ry="23.40"/><path d="M129.41,179.90 H140.31"/><ellipse cx="129.41" cy="203.30" rx="18.40" ry="19.90"/><path d="M129.41,183.40 H140.31"/><ellipse cx="129.41" cy="203.30" rx="14.40" ry="15.90"/><path d="M129.41,187.40 H140.31"/><ellipse cx="129.41" cy="203.30" rx="9.90" ry="11.40"/><path d="M129.41,191.90 H140.31"/><ellipse cx="129.41" cy="203.30" rx="5.40" ry="6.90"/><path d="M129.41,196.40 H140.31"/></g></g>
<g transform="translate(-1.05,-290.1)"><ellipse cx="126.4" cy="488.4" rx="2.4" ry="1.8" fill="#600000" opacity="0.85" filter="url(#bl)"/></g>
</g>
<g clip-path="url(#cp3)">
<path d="M138.31,203.30 L138.31,181.84 L139.87,179.94 L141.43,178.19 L142.99,176.58 L144.55,175.08 L146.11,173.69 L147.66,172.39 L149.22,171.19 L150.78,170.06 L152.34,169.01 L153.90,168.03 L155.46,167.12 L157.02,166.27 L158.58,165.48 L160.14,164.75 L161.69,164.08 L163.25,163.45 L164.81,162.88 L166.37,162.36 L167.93,161.88 L169.49,161.46 L171.05,161.08 L172.61,160.74 L174.17,160.45 L175.73,160.20 L177.29,160.00 L178.84,159.84 L180.40,159.72 L181.96,159.64 L183.52,159.60 L185.08,159.61 L185.08,203.30 Z" fill="url(#gP3)"/>
<g clip-path="url(#fc3)"><g fill="none" stroke="#a00800" stroke-width="1.3" opacity="0.25" filter="url(#bl05)"><circle cx="184.08" cy="217.82" r="54.22"/><circle cx="184.08" cy="217.82" r="49.22"/><circle cx="184.08" cy="217.82" r="44.22"/><circle cx="184.08" cy="217.82" r="38.22"/><circle cx="184.08" cy="217.82" r="31.22"/><circle cx="184.08" cy="217.82" r="23.22"/><circle cx="184.08" cy="217.82" r="14.22"/></g></g>
<path d="M139.31,180.60 C139.58,182.17 140.48,186.18 140.91,190.00 C141.34,193.82 141.74,201.25 141.91,203.50 L141.91,203.30 L138.31,203.30 L138.31,177.60 Z" fill="url(#rP3)"/>
<g transform="translate(-1.05,-290.1)"><ellipse cx="171" cy="486" rx="3" ry="2" fill="#600000" opacity="0.85" filter="url(#bl)"/></g>
<g transform="translate(-1.05,-290.1)"><rect x="141.2" y="470" width="1.6" height="21" fill="#f0c000" filter="url(#bl)"/></g>
</g>
<g clip-path="url(#cp4)">
<path d="M183.08,203.30 L183.08,148.68 L184.64,147.63 L186.20,146.63 L187.76,145.68 L189.32,144.78 L190.88,143.92 L192.43,143.11 L193.99,142.34 L195.55,141.61 L197.11,140.92 L198.67,140.27 L200.23,139.66 L201.79,139.09 L203.35,138.55 L204.91,138.04 L206.47,137.58 L208.02,137.14 L209.58,136.74 L211.14,136.37 L212.70,136.04 L214.26,135.73 L215.82,135.46 L217.38,135.22 L218.94,135.01 L220.50,134.83 L222.06,134.69 L223.61,134.57 L225.17,134.48 L226.73,134.43 L228.29,134.40 L229.85,134.41 L229.85,203.30 Z" fill="url(#gP4)"/>
<g clip-path="url(#fc4)"><g fill="none" stroke="#a00800" stroke-width="1.3" opacity="0.25" filter="url(#bl05)"><circle cx="228.85" cy="214.89" r="76.49"/><circle cx="228.85" cy="214.89" r="71.49"/><circle cx="228.85" cy="214.89" r="66.49"/><circle cx="228.85" cy="214.89" r="60.49"/><circle cx="228.85" cy="214.89" r="53.49"/><circle cx="228.85" cy="214.89" r="45.49"/><circle cx="228.85" cy="214.89" r="36.49"/></g></g>
<path d="M184.08,148.00 C185.48,151.17 189.78,159.38 192.48,167.00 C195.18,174.62 198.68,187.62 200.28,193.70 C201.88,199.78 201.78,201.87 202.08,203.50 L202.08,203.30 L183.08,203.30 L183.08,145.00 Z" fill="url(#rP4)"/>
<path d="M184.08,148.00 C185.48,151.17 189.78,159.38 192.48,167.00 C195.18,174.62 198.68,187.62 200.28,193.70 C201.88,199.78 201.78,201.87 202.08,203.50" stroke="url(#rw4)" stroke-width="5" fill="none" filter="url(#bl)" transform="translate(-1.5,0)"/>
<path d="M184.08,148.00 C185.48,151.17 189.78,159.38 192.48,167.00 C195.18,174.62 198.68,187.62 200.28,193.70 C201.88,199.78 201.78,201.87 202.08,203.50" stroke="url(#rl4)" stroke-width="1.1" fill="none"/>
<g transform="translate(-1.05,-290.1)"><ellipse cx="213.5" cy="481" rx="3.5" ry="2.2" fill="#600000" opacity="0.85" filter="url(#bl)"/></g>
</g>
<g clip-path="url(#cp5)">
<path d="M227.85,203.30 L227.85,118.95 L229.41,118.26 L230.97,117.60 L232.53,116.96 L234.09,116.36 L235.65,115.78 L237.20,115.23 L238.76,114.70 L240.32,114.20 L241.88,113.72 L243.44,113.27 L245.00,112.84 L246.56,112.44 L248.12,112.06 L249.68,111.71 L251.24,111.37 L252.79,111.07 L254.35,110.78 L255.91,110.52 L257.47,110.28 L259.03,110.06 L260.59,109.87 L262.15,109.69 L263.71,109.54 L265.27,109.41 L266.82,109.31 L268.38,109.22 L269.94,109.16 L271.50,109.12 L273.06,109.10 L274.62,109.10 L274.62,203.30 Z" fill="url(#gP5)"/>
<g clip-path="url(#fc5)"><g fill="none" stroke="#a00800" stroke-width="1.3" opacity="0.25" filter="url(#bl05)"><circle cx="273.62" cy="220.41" r="107.31"/><circle cx="273.62" cy="220.41" r="102.31"/><circle cx="273.62" cy="220.41" r="97.31"/><circle cx="273.62" cy="220.41" r="91.31"/><circle cx="273.62" cy="220.41" r="84.31"/><circle cx="273.62" cy="220.41" r="76.31"/><circle cx="273.62" cy="220.41" r="67.31"/></g></g>
<path d="M228.85,118.50 C230.93,122.08 237.27,133.08 241.35,140.00 C245.43,146.92 250.52,153.33 253.35,160.00 C256.18,166.67 257.35,172.75 258.35,180.00 C259.35,187.25 259.18,199.58 259.35,203.50 L259.35,203.30 L227.85,203.30 L227.85,115.50 Z" fill="url(#rP5)"/>
<path d="M228.85,118.50 C230.93,122.08 237.27,133.08 241.35,140.00 C245.43,146.92 250.52,153.33 253.35,160.00 C256.18,166.67 257.35,172.75 258.35,180.00 C259.35,187.25 259.18,199.58 259.35,203.50" stroke="url(#rw5)" stroke-width="5" fill="none" filter="url(#bl)" transform="translate(-1.5,0)"/>
<path d="M228.85,118.50 C230.93,122.08 237.27,133.08 241.35,140.00 C245.43,146.92 250.52,153.33 253.35,160.00 C256.18,166.67 257.35,172.75 258.35,180.00 C259.35,187.25 259.18,199.58 259.35,203.50" stroke="url(#rl5)" stroke-width="1.1" fill="none"/>
<g transform="translate(-1.05,-290.1)"><ellipse cx="261" cy="476" rx="2.6" ry="2.2" fill="#600000" opacity="0.85" filter="url(#bl)"/></g>
</g>
<g clip-path="url(#cp6)">
<path d="M272.62,203.30 L272.62,106.62 L274.18,105.97 L275.74,105.35 L277.30,104.75 L278.86,104.18 L280.42,103.63 L281.97,103.11 L283.53,102.61 L285.09,102.14 L286.65,101.69 L288.21,101.26 L289.77,100.85 L291.33,100.47 L292.89,100.11 L294.45,99.78 L296.00,99.46 L297.56,99.17 L299.12,98.90 L300.68,98.65 L302.24,98.42 L303.80,98.21 L305.36,98.03 L306.92,97.86 L308.48,97.72 L310.04,97.60 L311.59,97.50 L313.15,97.42 L314.71,97.36 L316.27,97.32 L317.83,97.30 L319.39,97.30 L319.39,203.30 Z" fill="url(#gP6)"/>
<g clip-path="url(#fc6)"><g fill="none" stroke="#a00800" stroke-width="1.3" opacity="0.25" filter="url(#bl05)"><circle cx="318.39" cy="214.35" r="113.05"/><circle cx="318.39" cy="214.35" r="108.05"/><circle cx="318.39" cy="214.35" r="103.05"/><circle cx="318.39" cy="214.35" r="97.05"/><circle cx="318.39" cy="214.35" r="90.05"/><circle cx="318.39" cy="214.35" r="82.05"/><circle cx="318.39" cy="214.35" r="73.05"/></g></g>
<path d="M273.62,106.20 C275.70,109.33 282.20,118.53 286.12,125.00 C290.04,131.47 293.95,139.00 297.12,145.00 C300.29,151.00 303.12,156.33 305.12,161.00 C307.12,165.67 308.20,165.92 309.12,173.00 C310.04,180.08 310.37,198.42 310.62,203.50 L310.62,203.30 L272.62,203.30 L272.62,103.20 Z" fill="url(#rP6)"/>
<path d="M273.62,106.20 C275.70,109.33 282.20,118.53 286.12,125.00 C290.04,131.47 293.95,139.00 297.12,145.00 C300.29,151.00 303.12,156.33 305.12,161.00 C307.12,165.67 308.20,165.92 309.12,173.00 C310.04,180.08 310.37,198.42 310.62,203.50" stroke="url(#rw6)" stroke-width="5" fill="none" filter="url(#bl)" transform="translate(-1.5,0)"/>
<path d="M273.62,106.20 C275.70,109.33 282.20,118.53 286.12,125.00 C290.04,131.47 293.95,139.00 297.12,145.00 C300.29,151.00 303.12,156.33 305.12,161.00 C307.12,165.67 308.20,165.92 309.12,173.00 C310.04,180.08 310.37,198.42 310.62,203.50" stroke="url(#rl6)" stroke-width="1.1" fill="none"/>
<g transform="translate(-1.05,-290.1)"><ellipse cx="305" cy="469" rx="5" ry="3" fill="#500000" opacity="0.85" filter="url(#bl)"/></g>
<g transform="translate(-1.05,-290.1)"><rect x="313.5" y="459" width="5" height="33" fill="#f08010" opacity="0.5" filter="url(#bl)"/></g>
<g transform="translate(-1.05,-290.1)"><rect x="315.8" y="460" width="2.8" height="31" fill="#f8e8a0" opacity="0.95" filter="url(#bl)"/></g>
</g>
<g clip-path="url(#cp7)">
<path d="M317.39,203.30 L317.39,92.41 L318.95,91.93 L320.51,91.46 L322.07,91.01 L323.63,90.58 L325.19,90.16 L326.74,89.76 L328.30,89.38 L329.86,89.02 L331.42,88.68 L332.98,88.35 L334.54,88.04 L336.10,87.75 L337.66,87.47 L339.22,87.21 L340.78,86.97 L342.33,86.75 L343.89,86.54 L345.45,86.34 L347.01,86.17 L348.57,86.01 L350.13,85.86 L351.69,85.74 L353.25,85.63 L354.81,85.53 L356.37,85.45 L357.92,85.39 L359.48,85.34 L361.04,85.31 L362.60,85.30 L364.16,85.30 L364.16,203.30 Z" fill="url(#gP7)"/>
<g clip-path="url(#fc7)"><g fill="none" stroke="#a00800" stroke-width="1.3" opacity="0.25" filter="url(#bl05)"><circle cx="363.16" cy="236.08" r="146.78"/><circle cx="363.16" cy="236.08" r="141.78"/><circle cx="363.16" cy="236.08" r="136.78"/><circle cx="363.16" cy="236.08" r="130.78"/><circle cx="363.16" cy="236.08" r="123.78"/><circle cx="363.16" cy="236.08" r="115.78"/><circle cx="363.16" cy="236.08" r="106.78"/></g></g>
<path d="M318.39,92.10 C321.59,95.75 332.51,107.35 337.59,114.00 C342.67,120.65 345.67,126.33 348.89,132.00 C352.11,137.67 354.72,143.83 356.89,148.00 C359.06,152.17 360.72,155.00 361.89,157.00 C363.06,159.00 363.56,159.50 363.89,160.00 L363.89,203.30 L317.39,203.30 L317.39,89.10 Z" fill="url(#rP7)"/>
<path d="M318.39,92.10 C321.59,95.75 332.51,107.35 337.59,114.00 C342.67,120.65 345.67,126.33 348.89,132.00 C352.11,137.67 354.72,143.83 356.89,148.00 C359.06,152.17 360.72,155.00 361.89,157.00 C363.06,159.00 363.56,159.50 363.89,160.00" stroke="url(#rw7)" stroke-width="5" fill="none" filter="url(#bl)" transform="translate(-1.5,0)"/>
<path d="M318.39,92.10 C321.59,95.75 332.51,107.35 337.59,114.00 C342.67,120.65 345.67,126.33 348.89,132.00 C352.11,137.67 354.72,143.83 356.89,148.00 C359.06,152.17 360.72,155.00 361.89,157.00 C363.06,159.00 363.56,159.50 363.89,160.00" stroke="url(#rl7)" stroke-width="1.1" fill="none"/>
<g transform="translate(-1.05,-290.1)"><ellipse cx="346" cy="457" rx="4" ry="3" fill="#500000" opacity="0.85" filter="url(#bl)"/></g>
<g transform="translate(-1.05,-290.1)"><ellipse cx="360" cy="450" rx="5" ry="7" fill="#f09010" opacity="0.55" filter="url(#bl)"/></g>
<g transform="translate(-1.05,-290.1)"><ellipse cx="362" cy="450" rx="3" ry="5.5" fill="#fcf0b0" filter="url(#bl)"/></g>
</g>
<g clip-path="url(#cp8)">
<path d="M362.16,203.30 L362.16,80.07 L363.72,79.50 L365.28,78.95 L366.84,78.42 L368.40,77.92 L369.96,77.43 L371.51,76.97 L373.07,76.53 L374.63,76.11 L376.19,75.71 L377.75,75.33 L379.31,74.97 L380.87,74.63 L382.43,74.31 L383.99,74.01 L385.55,73.73 L387.10,73.47 L388.66,73.23 L390.22,73.00 L391.78,72.80 L393.34,72.62 L394.90,72.45 L396.46,72.30 L398.02,72.18 L399.58,72.07 L401.13,71.98 L402.69,71.90 L404.25,71.85 L405.81,71.82 L407.37,71.80 L408.93,71.80 L408.93,203.30 Z" fill="url(#gP8)"/>
<g clip-path="url(#fc8)"><g fill="none" stroke="#a00800" stroke-width="1.3" opacity="0.25" filter="url(#bl05)"><circle cx="407.93" cy="202.61" r="126.81"/><circle cx="407.93" cy="202.61" r="121.81"/><circle cx="407.93" cy="202.61" r="116.81"/><circle cx="407.93" cy="202.61" r="110.81"/><circle cx="407.93" cy="202.61" r="103.81"/><circle cx="407.93" cy="202.61" r="95.81"/><circle cx="407.93" cy="202.61" r="86.81"/></g></g>
<path d="M363.16,79.70 C365.59,82.75 373.21,92.40 377.76,98.00 C382.31,103.60 386.64,108.63 390.46,113.30 C394.28,117.97 397.98,122.60 400.66,126.00 C403.34,129.40 405.23,132.20 406.56,133.70 C407.89,135.20 408.31,134.78 408.66,135.00 L408.66,203.30 L362.16,203.30 L362.16,76.70 Z" fill="url(#rP8)"/>
<path d="M363.16,79.70 C365.59,82.75 373.21,92.40 377.76,98.00 C382.31,103.60 386.64,108.63 390.46,113.30 C394.28,117.97 397.98,122.60 400.66,126.00 C403.34,129.40 405.23,132.20 406.56,133.70 C407.89,135.20 408.31,134.78 408.66,135.00" stroke="url(#rw8)" stroke-width="5" fill="none" filter="url(#bl)" transform="translate(-1.5,0)"/>
<path d="M363.16,79.70 C365.59,82.75 373.21,92.40 377.76,98.00 C382.31,103.60 386.64,108.63 390.46,113.30 C394.28,117.97 397.98,122.60 400.66,126.00 C403.34,129.40 405.23,132.20 406.56,133.70 C407.89,135.20 408.31,134.78 408.66,135.00" stroke="url(#rl8)" stroke-width="1.1" fill="none"/>
<g transform="translate(-1.05,-290.1)"><ellipse cx="401" cy="463" rx="5.5" ry="2.2" fill="#300000" opacity="0.9" filter="url(#bl)"/></g>
<g transform="translate(-1.05,-290.1)"><ellipse cx="404.5" cy="432" rx="6" ry="11" fill="#f09010" opacity="0.55" filter="url(#bl)"/></g>
<g transform="translate(-1.05,-290.1)"><ellipse cx="407" cy="431" rx="3.2" ry="9" fill="#fcf0b0" filter="url(#bl)"/></g>
</g>
<path d="M49.77,41.9V202.7 M94.54,41.9V202.7 M139.31,41.9V202.7 M184.08,41.9V202.7 M228.85,41.9V202.7 M273.62,41.9V202.7 M318.39,41.9V202.7 M363.16,41.9V202.7" stroke="#c8c8c8" stroke-width="0.9" fill="none"/>
</g>
<rect x="5.9" y="158.3" width="42.6" height="21.4" fill="#fff"/>
<text x="28.4" y="167.9" font-size="8.9" text-anchor="middle" textLength="40" lengthAdjust="spacingAndGlyphs">Diffracted</text>
<text x="27.8" y="175.8" font-size="8.7" text-anchor="middle" textLength="37.2" lengthAdjust="spacingAndGlyphs">detonation</text>
<path d="M37,179.7V202" stroke="#000" stroke-width="0.9"/>
<rect x="51.9" y="137.9" width="41.3" height="43" fill="#fff"/>
<text x="72.2" y="146.6" font-size="9.2" text-anchor="middle" textLength="38" lengthAdjust="spacingAndGlyphs">Separation</text>
<text x="72.2" y="157.4" font-size="9.2" text-anchor="middle" textLength="35.8" lengthAdjust="spacingAndGlyphs">of shock-</text>
<text x="73.1" y="168" font-size="9.2" text-anchor="middle" textLength="32.4" lengthAdjust="spacingAndGlyphs">reaction</text>
<text x="73.1" y="178.6" font-size="9.2" text-anchor="middle" textLength="17.8" lengthAdjust="spacingAndGlyphs">zone</text>
<path d="M85.3,180.9V202.5" stroke="#000" stroke-width="0.9"/>
<rect x="140.6" y="135.6" width="42.6" height="22.2" fill="#fff"/>
<text x="142.6" y="145.5" font-size="9.0" textLength="36.5" lengthAdjust="spacingAndGlyphs">Reflected</text>
<text x="142.6" y="156.1" font-size="9.1">wave</text>
<path d="M141.1,157.8V191.6" stroke="#000" stroke-width="1"/>
<text x="26.89" y="257.20" font-size="10.5" text-anchor="middle" textLength="40.2" lengthAdjust="spacingAndGlyphs">31.35 ms</text>
<text x="28.14" y="540.20" font-size="10.5" text-anchor="middle" textLength="40.2" lengthAdjust="spacingAndGlyphs">31.35 ms</text>
<text x="71.95" y="257.30" font-size="10.5" text-anchor="middle" textLength="40.2" lengthAdjust="spacingAndGlyphs">31.40 ms</text>
<text x="73.23" y="540.32" font-size="10.5" text-anchor="middle" textLength="40.2" lengthAdjust="spacingAndGlyphs">31.40 ms</text>
<text x="117.03" y="257.40" font-size="10.5" text-anchor="middle" textLength="40.2" lengthAdjust="spacingAndGlyphs">31.45 ms</text>
<text x="118.34" y="540.44" font-size="10.5" text-anchor="middle" textLength="40.2" lengthAdjust="spacingAndGlyphs">31.45 ms</text>
<text x="162.09" y="257.50" font-size="10.5" text-anchor="middle" textLength="37.4" lengthAdjust="spacingAndGlyphs">31.50ms</text>
<text x="163.44" y="540.56" font-size="10.5" text-anchor="middle" textLength="37.4" lengthAdjust="spacingAndGlyphs">31.50ms</text>
<text x="207.16" y="257.60" font-size="10.5" text-anchor="middle" textLength="40.2" lengthAdjust="spacingAndGlyphs">31.60 ms</text>
<text x="208.53" y="540.68" font-size="10.5" text-anchor="middle" textLength="40.2" lengthAdjust="spacingAndGlyphs">31.60 ms</text>
<text x="252.24" y="257.70" font-size="10.5" text-anchor="middle" textLength="40.2" lengthAdjust="spacingAndGlyphs">31.70 ms</text>
<text x="253.64" y="540.80" font-size="10.5" text-anchor="middle" textLength="40.2" lengthAdjust="spacingAndGlyphs">31.70 ms</text>
<text x="297.31" y="257.80" font-size="10.5" text-anchor="middle" textLength="40.2" lengthAdjust="spacingAndGlyphs">31.75 ms</text>
<text x="298.74" y="540.92" font-size="10.5" text-anchor="middle" textLength="40.2" lengthAdjust="spacingAndGlyphs">31.75 ms</text>
<text x="342.38" y="257.90" font-size="10.5" text-anchor="middle" textLength="40.2" lengthAdjust="spacingAndGlyphs">31.80 ms</text>
<text x="343.84" y="541.04" font-size="10.5" text-anchor="middle" textLength="40.2" lengthAdjust="spacingAndGlyphs">31.80 ms</text>
<text x="387.44" y="258.00" font-size="10.5" text-anchor="middle" textLength="40.2" lengthAdjust="spacingAndGlyphs">31.85 ms</text>
<text x="388.94" y="541.16" font-size="10.5" text-anchor="middle" textLength="40.2" lengthAdjust="spacingAndGlyphs">31.85 ms</text>
<path d="M407.9,59.60h4.4 M407.9,71.58h2.4 M407.9,83.56h2.4 M407.9,95.54h2.4 M407.9,107.52h2.4 M407.9,119.50h4.4 M407.9,131.48h2.4 M407.9,143.46h2.4 M407.9,155.44h2.4 M407.9,167.42h2.4 M407.9,179.40h4.4 M407.9,191.38h2.4 M407.9,203.36h2.4 M407.9,215.34h2.4 M407.9,227.32h2.4 M407.9,239.30h4.4" stroke="#111" stroke-width="0.9" fill="none"/>
<text x="415.9" y="62.20" font-size="10.2">4.5 m</text>
<text x="415.9" y="122.10" font-size="10.2">4.0 m</text>
<text x="415.9" y="182.00" font-size="10.2">3.5 m</text>
<text x="412.9" y="242.70" font-size="10.2">3.0 m</text>
<path d="M409.2,349.30h4.4 M409.2,361.28h2.4 M409.2,373.26h2.4 M409.2,385.24h2.4 M409.2,397.22h2.4 M409.2,409.20h4.4 M409.2,421.18h2.4 M409.2,433.16h2.4 M409.2,445.14h2.4 M409.2,457.12h2.4 M409.2,469.10h4.4 M409.2,481.08h2.4 M409.2,493.06h2.4 M409.2,505.04h2.4 M409.2,517.02h2.4 M409.2,529.00h4.4" stroke="#111" stroke-width="0.9" fill="none"/>
<text x="417.2" y="351.90" font-size="10.2">4.5 m</text>
<text x="417.2" y="411.80" font-size="10.2">4.0 m</text>
<text x="417.2" y="471.70" font-size="10.2">3.5 m</text>
<text x="414.2" y="532.40" font-size="10.2">3.0 m</text>
</svg></body></html>
